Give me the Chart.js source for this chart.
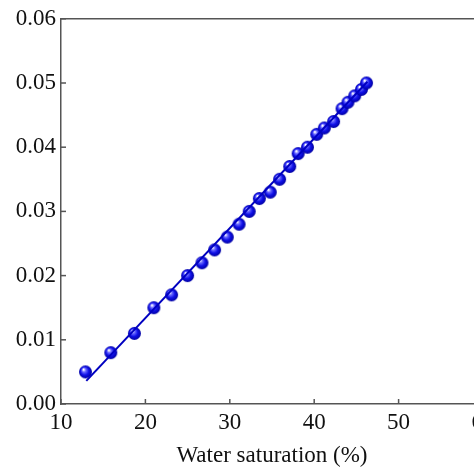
<!DOCTYPE html>
<html><head><meta charset="utf-8">
<script src="https://cdn.jsdelivr.net/npm/chart.js@4"></script>
<style>html,body{margin:0;padding:0;overflow:hidden;background:#fff}#wrap{width:500px;height:474px}</style>
</head><body><div id="wrap"><canvas id="c" width="500" height="474"></canvas></div>
<script>
const xVals=[12.9,15.9,18.7,21.0,23.1,25.0,26.7,28.2,29.7,31.1,32.3,33.5,34.8,35.9,37.1,38.1,39.2,40.3,41.2,42.3,43.3,44.0,44.8,45.6,46.2];
const yVals=[0.005,0.008,0.011,0.015,0.017,0.020,0.022,0.024,0.026,0.028,0.030,0.032,0.033,0.035,0.037,0.039,0.040,0.042,0.043,0.044,0.046,0.047,0.048,0.049,0.050];
const fitX=[13.0,46.3];
const fitY=[0.0036,0.0502];
const xTicks=[10,20,30,40,50,60];
const yTicks=[0,0.01,0.02,0.03,0.04,0.05,0.06];

const r=6.5,s=document.createElement('canvas');s.width=s.height=Math.ceil(r*2+2);
const g=s.getContext('2d');const cx=s.width/2;
const gr=g.createRadialGradient(cx-2,cx-2.5,0.5,cx,cx,r);
gr.addColorStop(0,'#ffffff');gr.addColorStop(0.25,'#6a6aff');gr.addColorStop(0.6,'#1010e8');gr.addColorStop(1,'#0000a0');
g.fillStyle=gr;g.beginPath();g.arc(cx,cx,r,0,Math.PI*2);g.fill();

const frame={id:'frame',afterDraw(ch){const c=ch.ctx,a=ch.chartArea;c.save();c.strokeStyle='#555';c.lineWidth=1.5;
c.beginPath();c.moveTo(a.left,a.top);c.lineTo(a.right+20,a.top);c.stroke();
const xs=ch.scales.x,ys=ch.scales.y;
xTicks.forEach(v=>{const p=xs.getPixelForValue(v);c.beginPath();c.moveTo(p,a.bottom);c.lineTo(p,a.bottom-5);c.stroke();});
yTicks.forEach(v=>{const p=ys.getPixelForValue(v);c.beginPath();c.moveTo(a.left,p);c.lineTo(a.left+5,p);c.stroke();});
c.restore();}};
const font={family:'"Liberation Serif", serif',size:23};
new Chart(document.getElementById('c'),{type:'scatter',
data:{datasets:[
{data:fitX.map((x,i)=>({x,y:fitY[i]})),showLine:true,borderColor:'#0000c0',borderWidth:2,pointRadius:0},
{data:xVals.map((x,i)=>({x,y:yVals[i]})),pointStyle:s,pointRadius:r}
]},
options:{responsive:false,animation:false,layout:{padding:{top:16,right:17,left:0,bottom:0}},
plugins:{legend:{display:false},tooltip:{enabled:false}},
scales:{
x:{type:'linear',min:10,max:60,afterBuildTicks(sc){sc.ticks=xTicks.map(v=>({value:v}));},
grid:{drawOnChartArea:false,drawTicks:false},border:{color:'#555',width:1.5},
ticks:{color:'#111',font,padding:5,callback:v=>v},
title:{display:true,text:'Water saturation (%)',color:'#111',font,padding:{top:2}},
afterFit(sc){sc.height=70;}},
y:{type:'linear',min:0,max:0.06,afterBuildTicks(sc){sc.ticks=yTicks.map(v=>({value:v}));},
grid:{drawOnChartArea:false,drawTicks:false},border:{color:'#555',width:1.5},
ticks:{color:'#111',font,padding:5,callback:v=>v.toFixed(2)},
afterFit(sc){sc.width=61;}}
}},plugins:[frame]});
</script></body></html>
